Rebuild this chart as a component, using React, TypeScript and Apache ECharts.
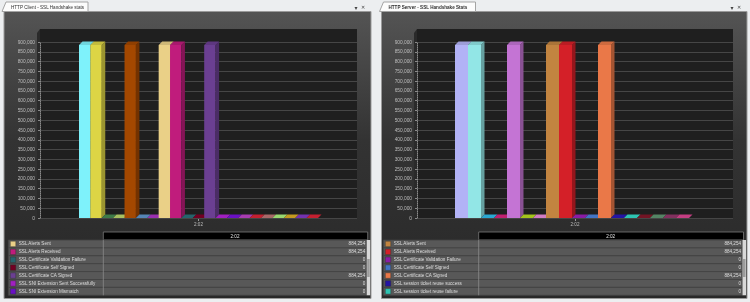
import React, { useEffect, useRef } from "react";
import * as echarts from "echarts";

const categories = ["2:02"];

const leftTitle = "HTTP Client - SSL Handshake stats";
const rightTitle = "HTTP Server - SSL Handshake Stats";

const leftNames = [
  "SSL Handshakes Started", "SSL Handshakes Completed", "SSL Handshake Failures", "SSL Renegotiations",
  "SSL Sessions Established", "SSL Session Reuse Success", "SSL Session Reuse Failure",
  "SSL Alerts Sent", "SSL Alerts Received", "SSL Certificate Validation Failure", "SSL Certificate Self Signed",
  "SSL Certificate CA Signed", "SSL SNI Extension Sent Successfully", "SSL SNI Extension Mismatch",
  "SSL session ticket reuse success", "SSL session ticket reuse failure", "SSL Protocol Errors", "SSL Timeouts",
  "SSL Connection Resets", "SSL Unsupported Cipher", "SSL Unsupported Version",
];
const leftValues = [884254, 884254, 0, 0, 884254, 0, 0, 884254, 884254, 0, 0, 884254, 0, 0, 0, 0, 0, 0, 0, 0, 0];
const leftColors = [
  "#7ef2fb", "#ddd545", "#3e7a48", "#a8c060", "#a44800", "#5585b5", "#9a30b0",
  "#ead087", "#c01c7c", "#26646c", "#720022", "#6b3f92", "#a020c0", "#6a10c4",
  "#a83cb0", "#c42030", "#a86868", "#98d870", "#c49a20", "#7432b0", "#c42030",
];

const rightNames = [
  "SSL Handshakes Started", "SSL Handshakes Completed", "SSL Handshake Failures", "SSL Renegotiations",
  "SSL Sessions Established", "SSL Session Reuse Success", "SSL Session Reuse Failure",
  "SSL Alerts Sent", "SSL Alerts Received", "SSL Certificate Validation Failure", "SSL Certificate Self Signed",
  "SSL Certificate CA Signed", "SSL session ticket reuse success", "SSL session ticket reuse failure",
  "SSL Protocol Errors", "SSL Timeouts", "SSL Connection Resets", "SSL Unsupported Cipher",
];
const rightValues = [884254, 884254, 0, 0, 884254, 0, 0, 884254, 884254, 0, 0, 884254, 0, 0, 0, 0, 0, 0];
const rightColors = [
  "#b2b2f6", "#92e6e6", "#2aa8d2", "#c02070", "#c474d4", "#a4c41c", "#d27cc4",
  "#c28440", "#d42028", "#8a1ca4", "#4274c4", "#ea7848", "#2414a4", "#2ec4b2",
  "#721424", "#548464", "#82305e", "#c43e82",
];

const tableFirstRow = 7;
const tableRowCount = 7;

const FONT = "Liberation Sans";
const DX = 3.5;
const DY = 3.5;

function fmt(v: number): string {
  const s = String(Math.round(v));
  return s.replace(/\B(?=(\d{3})+(?!\d))/g, ",");
}

function shade(hex: string, f: number): string {
  const n = parseInt(hex.slice(1), 16);
  const r = Math.min(255, Math.round(((n >> 16) & 255) * f));
  const g = Math.min(255, Math.round(((n >> 8) & 255) * f));
  const b = Math.min(255, Math.round((n & 255) * f));
  return "rgb(" + r + "," + g + "," + b + ")";
}

function makeRender(colors: string[]) {
  return (params: any, api: any) => {
    const i = api.value(0);
    const v = api.value(1);
    const bl = api.coord([i - 0.5, 0]);
    const tr = api.coord([i + 0.5, v]);
    const x0 = bl[0], x1 = tr[0], yb = bl[1], yt = tr[1];
    const c = colors[i];
    const children: any[] = [];
    if (v > 0) {
      children.push({ type: "rect", shape: { x: x0, y: yt, width: x1 - x0, height: yb - yt }, style: { fill: c } });
      children.push({
        type: "polygon",
        shape: { points: [[x1, yt], [x1 + DX, yt - DY], [x1 + DX, yb - DY], [x1, yb]] },
        style: { fill: shade(c, 0.7) },
      });
      children.push({
        type: "polygon",
        shape: { points: [[x0, yt], [x0 + DX, yt - DY], [x1 + DX, yt - DY], [x1, yt]] },
        style: { fill: shade(c, 0.88) },
      });
    } else {
      children.push({
        type: "polygon",
        shape: { points: [[x0, yb], [x0 + DX, yb - DY], [x1 + DX, yb - DY], [x1, yb]] },
        style: { fill: c },
      });
    }
    return { type: "group", children };
  };
}

type PanelCfg = {
  x0: number; w: number; title: string; tabW: number; bold: boolean;
  wallL: number; wallR: number; rowL: number; colX: number; tableR: number;
  names: string[]; values: number[]; colors: string[];
};

function panelGraphics(p: PanelCfg): any[] {
  const g: any[] = [];
  // panel body
  g.push({
    type: "rect", z: 0, shape: { x: p.x0, y: 11.5, width: p.w, height: 287 },
    style: {
      fill: { type: "linear", x: 0, y: 0, x2: 0, y2: 1, colorStops: [
        { offset: 0, color: "#545454" }, { offset: 0.45, color: "#333333" }, { offset: 1, color: "#282828" },
      ] },
      stroke: "#9a9a9a", lineWidth: 1,
    },
  });
  // title tab
  const tx = p.x0 - 2;
  g.push({
    type: "polygon", z: 0,
    shape: { points: [[tx, 11.5], [tx + 4, 2], [tx + p.tabW, 2], [tx + p.tabW, 11.5]] },
    style: { fill: "#fcfcfc", stroke: "#a4a4a4", lineWidth: 1 },
  });
  g.push({
    type: "text", z: 1, x: tx + 9, y: 7,
    style: { text: p.title, fontSize: 4.6, fontFamily: FONT, fontWeight: p.bold ? "bold" : "normal", fill: "#303030", verticalAlign: "middle" },
  });
  // window icons
  const ix = p.x0 + p.w - 15;
  g.push({ type: "text", z: 1, x: ix, y: 7, style: { text: "▾", fontSize: 6, fontFamily: "DejaVu Sans", fill: "#444", verticalAlign: "middle", align: "center" } });
  g.push({ type: "text", z: 1, x: ix + 7, y: 7, style: { text: "✕", fontSize: 5, fontFamily: "DejaVu Sans", fill: "#444", verticalAlign: "middle", align: "center" } });
  // back wall
  g.push({
    type: "rect", z: 0, shape: { x: p.wallL, y: 29, width: p.wallR - p.wallL, height: 189 },
    style: { fill: "#1f1f1f" },
  });
  g.push({
    type: "polygon", z: 0,
    shape: { points: [[p.wallL - 3, 33], [p.wallL, 29], [p.wallL, 218], [p.wallL - 3, 221]] },
    style: { fill: "#2a2a2a" },
  });
  // table header
  g.push({
    type: "rect", z: 5, shape: { x: p.colX, y: 232, width: p.tableR - p.colX + 1, height: 8 },
    style: { fill: "#000000", stroke: "#7a7a7a", lineWidth: 0.8 },
  });
  g.push({
    type: "text", z: 6, x: (p.colX + p.tableR) / 2, y: 236,
    style: { text: categories[0], fontSize: 4.6, fontFamily: FONT, fill: "#e8e8e8", align: "center", verticalAlign: "middle" },
  });
  const rowH = 7.9;
  for (let r = 0; r < tableRowCount; r++) {
    const idx = tableFirstRow + r;
    const y = 240 + r * rowH;
    g.push({
      type: "rect", z: 5, shape: { x: p.rowL, y, width: p.tableR - p.rowL, height: rowH },
      style: { fill: "#585858", stroke: "#434343", lineWidth: 0.8 },
    });
    g.push({
      type: "rect", z: 6, shape: { x: p.rowL + 2, y: y + 1.2, width: 5.5, height: 5.5 },
      style: { fill: p.colors[idx], stroke: "#2a2a2a", lineWidth: 0.4 },
    });
    g.push({
      type: "text", z: 6, x: p.rowL + 10.5, y: y + rowH / 2,
      style: { text: p.names[idx], fontSize: 4.6, fontFamily: FONT, fill: "#dedede", verticalAlign: "middle" },
    });
    g.push({
      type: "text", z: 6, x: p.tableR - 1.5, y: y + rowH / 2,
      style: { text: fmt(p.values[idx]), fontSize: 4.6, fontFamily: FONT, fill: "#dedede", align: "right", verticalAlign: "middle" },
    });
  }
  // column separator
  g.push({
    type: "line", z: 7, shape: { x1: p.colX, y1: 240, x2: p.colX, y2: 240 + tableRowCount * rowH },
    style: { stroke: "#8c8c8c", lineWidth: 0.8 },
  });
  // scrollbar
  g.push({
    type: "rect", z: 7, shape: { x: p.tableR, y: 240, width: 3.5, height: tableRowCount * rowH },
    style: { fill: "#d8d8d8" },
  });
  g.push({
    type: "rect", z: 8, shape: { x: p.tableR + 0.5, y: 259, width: 2.5, height: 18 },
    style: { fill: "#9c9c9c" },
  });
  return g;
}

function axisPair(gridBg: number, gridBars: number, n: number) {
  const x = [
    {
      gridIndex: gridBg, type: "category", data: categories,
      axisLine: { show: false },
      axisTick: { show: true, alignWithLabel: true, length: 3, lineStyle: { color: "#9a9a9a" } },
      axisLabel: { fontSize: 4.6, fontFamily: FONT, color: "#bdbdbd", margin: 4 },
      splitLine: { show: false },
    },
    { gridIndex: gridBars, type: "value", min: -0.5, max: n - 0.5, show: false },
  ];
  const y = [
    {
      gridIndex: gridBg, type: "value", min: 0, max: 900000, interval: 50000, z: 1,
      axisLabel: { formatter: (v: number) => fmt(v), fontSize: 4.8, fontFamily: FONT, color: "#bdbdbd", margin: 5 },
      axisLine: { show: true, lineStyle: { color: "#8a8a8a", type: "dotted", width: 1 } },
      axisTick: { show: true, length: 2, lineStyle: { color: "#8a8a8a" } },
      splitLine: { show: true, lineStyle: { color: "#464646", width: 1 } },
    },
    { gridIndex: gridBars, type: "value", min: 0, max: 900000, show: false },
  ];
  return { x, y };
}

export default function App() {
  const ref = useRef<HTMLDivElement>(null);
  useEffect(() => {
    if (!ref.current) return;
    const chart = echarts.init(ref.current, undefined, { renderer: "svg" });
    const left = axisPair(0, 1, leftValues.length);
    const right = axisPair(2, 3, rightValues.length);
    const graphics: any[] = [
      { type: "rect", z: 0, shape: { x: 0, y: 0, width: 750, height: 302 }, style: { fill: "#eceef0" } },
      ...panelGraphics({
        x0: 4, w: 367, title: leftTitle, tabW: 86, bold: false,
        wallL: 40, wallR: 357, rowL: 8.3, colX: 103.3, tableR: 366.7,
        names: leftNames, values: leftValues, colors: leftColors,
      }),
      ...panelGraphics({
        x0: 381.5, w: 365.5, title: rightTitle, tabW: 96, bold: true,
        wallL: 417, wallR: 733, rowL: 383.3, colX: 478.7, tableR: 742.5,
        names: rightNames, values: rightValues, colors: rightColors,
      }),
    ];
    chart.setOption({
      animation: false,
      grid: [
        { left: 40, top: 42, width: 317, height: 176 },
        { left: 79, top: 42, width: 239, height: 176 },
        { left: 417, top: 42, width: 316, height: 176 },
        { left: 455, top: 42, width: 234, height: 176 },
      ],
      xAxis: [...left.x, ...right.x],
      yAxis: [...left.y, ...right.y],
      graphic: { elements: graphics },
      series: [
        {
          type: "custom", name: "HTTP Client", xAxisIndex: 1, yAxisIndex: 1, z: 2,
          renderItem: makeRender(leftColors),
          data: leftValues.map((v, i) => [i, v]),
        },
        {
          type: "custom", name: "HTTP Server", xAxisIndex: 3, yAxisIndex: 3, z: 2,
          renderItem: makeRender(rightColors),
          data: rightValues.map((v, i) => [i, v]),
        },
      ],
    });
    return () => chart.dispose();
  }, []);
  return (
    <div
      ref={ref}
      style={{ position: "fixed", left: 0, top: 0, width: 750, height: 302 }}
    />
  );
}
